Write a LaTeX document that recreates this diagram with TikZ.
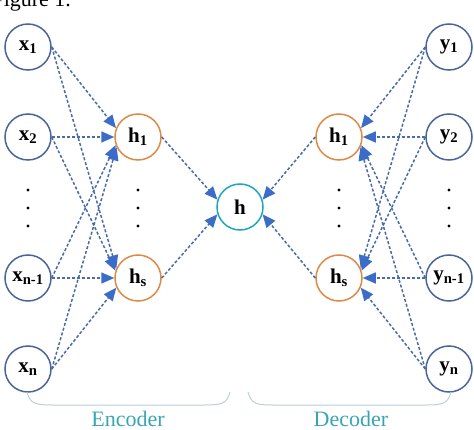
\documentclass[tikz,border=0pt]{standalone}
\usepackage{fontspec}
\setmainfont{Liberation Serif}
\usetikzlibrary{arrows.meta}
\definecolor{inpc}{HTML}{4A659A}
\definecolor{hidc}{HTML}{DD8A45}
\definecolor{ctrc}{HTML}{20A5C0}
\definecolor{linec}{HTML}{4A6BA5}
\definecolor{arrc}{HTML}{3A6CC8}
\definecolor{bracec}{HTML}{B8D0D8}
\definecolor{txtc}{HTML}{38A5B5}
\newcommand{\labfont}{\bfseries\fontsize{21}{21}\selectfont}
\tikzset{
  inp/.style={circle, draw=inpc, line width=1.5pt, minimum size=46pt, inner sep=0pt, font=\labfont},
  hid/.style={inp, draw=hidc},
  ctr/.style={inp, draw=ctrc},
  dotn/.style={circle, fill=black, minimum size=3.2pt, inner sep=0pt},
  con/.style={draw=linec, dash pattern=on 3pt off 2pt, line width=1.5pt,
    -{Triangle[length=13pt,width=11pt,color=arrc]}},
  bracepath/.style={draw=bracec, line width=1pt},
  captext/.style={text=txtc, font=\fontsize{22}{22}\selectfont}
}
\begin{document}
\begin{tikzpicture}[x=1pt,y=-1pt]
\useasboundingbox (0,0) rectangle (474,430);
\node[anchor=base west, font=\fontsize{22}{22}\selectfont] (fig) at (-12,7) {Figure 1.};
% input nodes
\node[inp] (x1) at (28,47) {x\textsubscript{1}};
\node[inp] (x2) at (28,137) {x\textsubscript{2}};
\node[inp] (xm) at (28,278) {x\textsubscript{n-1}};
\node[inp] (xn) at (28,369) {x\textsubscript{n}};
\node[inp] (y1) at (449,47) {y\textsubscript{1}};
\node[inp] (y2) at (449,137) {y\textsubscript{2}};
\node[inp] (ym) at (449,278) {y\textsubscript{n-1}};
\node[inp] (yn) at (449,369) {y\textsubscript{n}};
% hidden
\node[hid] (eh1) at (138,137) {h\textsubscript{1}};
\node[hid] (ehs) at (138,278) {h\textsubscript{s}};
\node[hid] (dh1) at (339,137) {h\textsubscript{1}};
\node[hid] (dhs) at (339,278) {h\textsubscript{s}};
\node[ctr] (h) at (240,207) {h};
% dots
\foreach \c/\xx in {a/28,b/138,c/339,d/449}{
  \node[dotn] (\c1) at (\xx,190) {};
  \node[dotn] (\c2) at (\xx,208) {};
  \node[dotn] (\c3) at (\xx,226) {};
}
% encoder connections
\draw[con] (x1.east) -- (eh1.158);
\draw[con] (x2.east) -- (eh1.180);
\draw[con] (xm.east) -- (eh1.200);
\draw[con] (xn.east) -- (eh1.206);
\draw[con] (x1.east) -- (ehs.156);
\draw[con] (x2.east) -- (ehs.162);
\draw[con] (xm.east) -- (ehs.180);
\draw[con] (xn.east) -- (ehs.204);
\draw[con] (eh1.east) -- (h.162);
\draw[con] (ehs.east) -- (h.198);
% decoder connections
\draw[con] (y1.west) -- (dh1.22);
\draw[con] (y2.west) -- (dh1.0);
\draw[con] (ym.west) -- (dh1.340);
\draw[con] (yn.west) -- (dh1.334);
\draw[con] (y1.west) -- (dhs.24);
\draw[con] (y2.west) -- (dhs.18);
\draw[con] (ym.west) -- (dhs.0);
\draw[con] (yn.west) -- (dhs.336);
\draw[con] (dh1.west) -- (h.18);
\draw[con] (dhs.west) -- (h.342);
% braces
\coordinate (eb1) at (27,392);
\coordinate (eb2) at (230,392);
\coordinate (db1) at (248,392);
\coordinate (db2) at (451,392);
\draw[bracepath] (eb1) .. controls (30,404) and (36,405) .. (52,405) -- (205,405) .. controls (221,405) and (227,404) .. (eb2);
\draw[bracepath] (db1) .. controls (251,404) and (257,405) .. (273,405) -- (426,405) .. controls (442,405) and (448,404) .. (db2);
\node[captext] (enc) at (128,419) {Encoder};
\node[captext] (dec) at (351,419) {Decoder};
\end{tikzpicture}
\end{document}
